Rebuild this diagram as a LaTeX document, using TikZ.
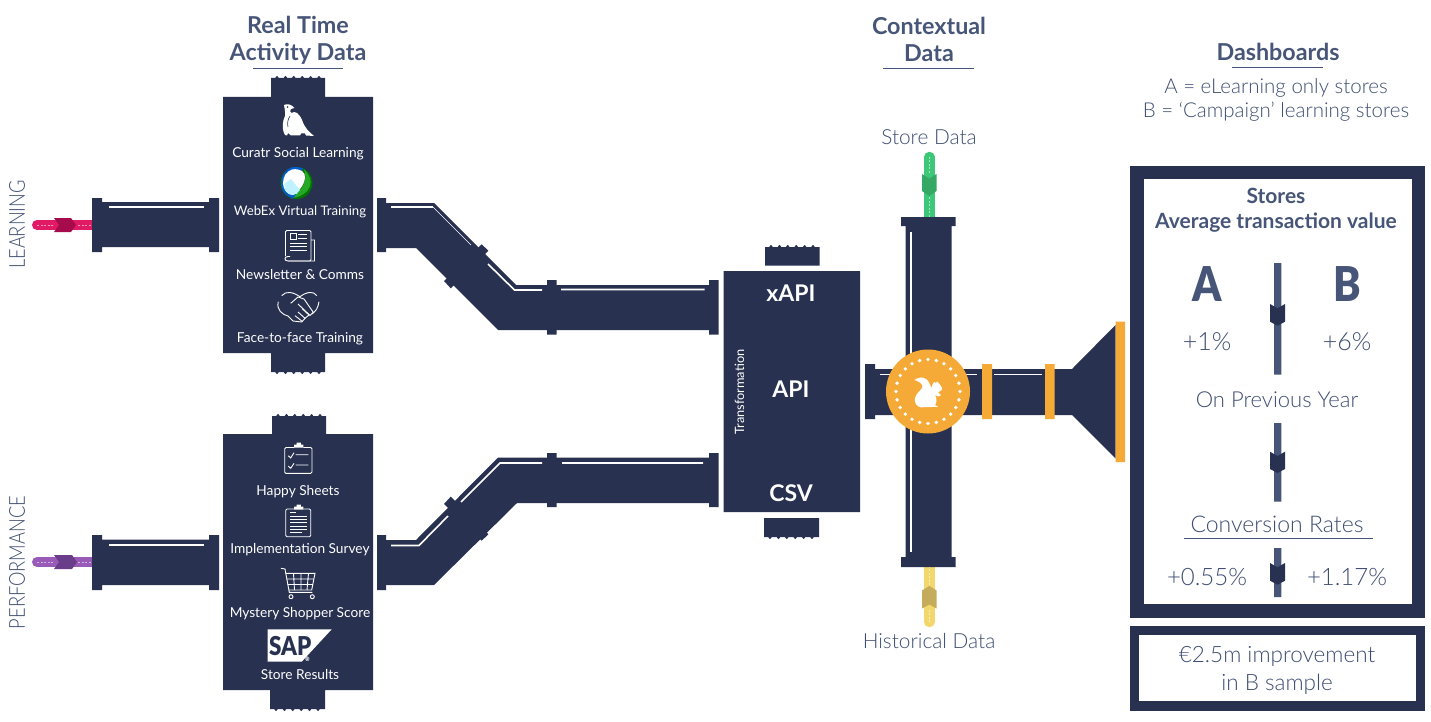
\documentclass[tikz,border=0pt]{standalone}
\usepackage{fontspec}
\usetikzlibrary{calc}
\setmainfont{Lato}
\newfontfamily\lightfont{Lato Light}
\newfontfamily\narrowfont[FakeStretch=.83]{Lato Light}
\newfontfamily\blackfont[FakeStretch=.86]{Lato Black}
\definecolor{navy}{HTML}{283150}
\definecolor{slate}{HTML}{475678}
\definecolor{ink}{HTML}{3E4D72}
\definecolor{amber}{HTML}{F5A936}
\definecolor{pink}{HTML}{E01A64}
\definecolor{pinkdark}{HTML}{A60C4C}
\definecolor{plum}{HTML}{9A5AB8}
\definecolor{plumdark}{HTML}{6A3D8A}
\definecolor{leaf}{HTML}{3CC878}
\definecolor{leafdark}{HTML}{34A864}
\definecolor{straw}{HTML}{F2D76C}
\definecolor{strawdark}{HTML}{C4AC5A}
\tikzset{
  heading/.style={inner sep=0pt, text=slate, align=center, font=\bfseries\fontsize{23.3}{27}\selectfont},
  label/.style={inner sep=0pt, text=ink, align=center, font=\lightfont\fontsize{22}{25}\selectfont},
  sidelabel/.style={inner sep=0pt, text=ink, rotate=90, font=\narrowfont\fontsize{22}{25}\selectfont},
  itemlabel/.style={inner sep=0pt, text=white, font=\fontsize{13.7}{17}\selectfont},
  apilabel/.style={inner sep=0pt, text=white, font=\bfseries\fontsize{23}{27}\selectfont},
  letter/.style={inner sep=0pt, text=slate, font=\blackfont\fontsize{48}{48}\selectfont},
  glint/.style={draw=white, line width=1.6pt},
  stubdash/.style={line width=0.5pt, dash pattern=on 2pt off 1.5pt},
  icon/.style={draw=white, line width=0.9pt, rounded corners=1.2pt},
  iconline/.style={draw=white, line width=0.9pt}
}
\newcommand{\serration}[2]{\foreach \d in {6,14.4,22.8,31.2,39.6,48} \fill[navy] ({#1+\d},#2) circle (1.6);}
\begin{document}
\begin{tikzpicture}[x=1pt, y=-1pt]
\useasboundingbox (0,0) rectangle (1431,722);
\draw[pink, line width=10pt, line cap=round] (37,225) -- (92,225);
\draw[pink!45!white, stubdash] (37,225) -- (53,225) (78,225) -- (92,225);
\fill[pinkdark] (54,218) -- (71,218) -- (76,225) -- (71,232) -- (54,232) -- (59,225) -- cycle;
\draw[plum, line width=10pt, line cap=round] (37,562) -- (92,562);
\draw[plum!45!white, stubdash] (37,562) -- (53,562) (78,562) -- (92,562);
\fill[plumdark] (54,555) -- (72,555) -- (77,562) -- (72,569) -- (54,569) -- (59,562) -- cycle;
\draw[leaf, line width=10.5pt, line cap=round] (929.3,157) -- (929.3,217);
\draw[leaf!45!white, stubdash] (929.3,157) -- (929.3,174) (929.3,197) -- (929.3,217);
\fill[leafdark] (922,174) -- (929.3,178.7) -- (936.5,174) -- (936.5,191) -- (929.3,196) -- (922,191) -- cycle;
\draw[straw, line width=10.5pt, line cap=round] (929.3,622) -- (929.3,567);
\draw[straw!45!white, stubdash] (929.3,622) -- (929.3,608) (929.3,585) -- (929.3,567);
\fill[strawdark] (929.3,586) -- (936.5,590.5) -- (936.5,608.5) -- (929.3,604.5) -- (922,608.5) -- (922,590.5) -- cycle;
\node[sidelabel] (learning) at (17,224.5) {LEARNING};
\node[sidelabel] (performance) at (17,562.5) {PERFORMANCE};
\node[heading] (realtime) at (298,40.5) {Real Time\\Activity Data};
\draw[slate, line width=1pt] (253,68.5) -- (343,68.5);
\node[heading] (contextual) at (929,39.5) {Contextual\\Data};
\draw[slate, line width=1pt] (883,68.5) -- (974,68.5);
\node[heading] (dashboards) at (1278,52) {Dashboards};
\draw[slate, line width=1pt] (1232,67.5) -- (1323,67.5);
\node[label, font=\lightfont\fontsize{20.5}{25}\selectfont] (groupa) at (1276,88) {A = eLearning only stores};
\node[label, font=\lightfont\fontsize{20.5}{25}\selectfont] (groupb) at (1276,112) {B = ‘Campaign’ learning stores};
\node[label, font=\lightfont\fontsize{20.8}{25}\selectfont] (storedata) at (929,137) {Store Data};
\node[label, font=\lightfont\fontsize{20.8}{25}\selectfont] (historical) at (929,641) {Historical Data};
\fill[navy] (92,198) rectangle (102,252) (102,202) rectangle (209,247) (209,198) rectangle (219,252);
\draw[glint] (109,207) -- (204,207);
\fill[navy] (92,535) rectangle (102,590) (102,539.5) rectangle (209,585) (209,535) rectangle (219,590);
\draw[glint] (109,545) -- (204,545);
\fill[navy] (223,97) rectangle (373,353) (271,78) rectangle (325,97) (271,353) rectangle (325,372);
\serration{271}{77.5}
\serration{271}{372.5}
\fill[navy] (223,434) rectangle (373,690) (272,416) rectangle (326,434) (270,690) rectangle (325,709);
\serration{272}{415.5}
\serration{270}{709.5}
\fill[white] (284,105) .. controls (287,103.5) and (291,104) .. (294.5,108) -- (291,109) .. controls (289.5,110) and (290,113) .. (291.5,113) .. controls (295,110.5) and (299,113) .. (302,120) .. controls (304,127) and (309,132) .. (314,136) -- (306,135.5) -- (305,133.5) -- (301,133.5) -- (300,135.5) -- (291,135.5) -- (288,133) -- (287,135.5) -- (285,135) .. controls (281,128) and (283,120) .. (285,116) .. controls (285.5,112) and (284.5,108) .. (284,105) -- cycle;
\fill[navy] (287.5,107) circle (0.8);
\draw[navy, line width=0.6pt] (290,116) .. controls (288,119) and (287,123) .. (288,127);
\node[itemlabel] (curatr) at (298,154) {Curatr Social Learning};
\fill[green!45!black] (296.5,183) circle (16);
\fill[green!60!black!85!white] (304,169.5) .. controls (316,180) and (312,195) .. (291,198.5) .. controls (303,190) and (308,180) .. (304,169.5) -- cycle;
\fill[blue!55!cyan!80!black] (290,168) .. controls (282,172) and (279,183) .. (283,191) .. controls (286,196) and (291,198) .. (294,198.5) .. controls (300,180) and (300,175) .. (303,168.5) .. controls (298,166.5) and (293,166.5) .. (290,168) -- cycle;
\fill[white] (292,169.5) .. controls (300,168) and (306,172) .. (305,178) .. controls (304,186) and (298,192) .. (293,195) .. controls (287,195) and (283,189) .. (283,183) .. controls (283,176) and (287,171) .. (292,169.5) -- cycle;
\fill[blue!20!cyan!25!white] (284,187) -- (298,193) -- (293,195) .. controls (289,195) and (285,191) .. (284,187) -- cycle;
\fill[blue!20!cyan!25!white] (284,184) -- (291,179) -- (300,190) -- (296,194) -- (288,192) -- cycle;
\node[itemlabel, font=\fontsize{13.2}{17}\selectfont] (webex) at (300,212) {WebEx Virtual Training};
\draw[icon] (285.5,256) -- (285.5,230.5) -- (311,230.5) -- (311,261) -- (288,261);
\draw[iconline] (311,240) -- (314.5,240) -- (314.5,261) -- (288,261) .. controls (284,261) and (284,256.5) .. (288,256.5) -- (290,256.5);
\draw[iconline] (290,233.5) rectangle (296,239.5) (298,234.5) -- (307,234.5) (298,238) -- (307,238) (290,243) -- (307,243) (290,246.5) -- (307,246.5) (290,250) -- (307,250);
\node[itemlabel] (newsletter) at (300,275) {Newsletter \& Comms};
\draw[iconline] (281.7,295.7) .. controls (286,290.5) and (293,292) .. (300,296.7) .. controls (306,292) and (314,290.5) .. (316.7,295.7);
\draw[iconline] (290.7,303.3) -- (298,297) -- (304,299) -- (313.3,312.3) -- (310,315.5) -- (298,304);
\draw[iconline] (278.3,301.7) .. controls (276,310) and (283,315) .. (288,316) -- (293,321) -- (301.7,322) -- (305,318.3) -- (298,312);
\draw[iconline] (295,315.7) -- (301.7,321) (305,318.3) -- (309,315) -- (302,308.5);
\draw[iconline] (319,301.7) .. controls (318,308) and (316,311) .. (312,314);
\node[itemlabel] (facetoface) at (300,339) {Face-to-face Training};
\draw[icon] (294,447.5) -- (284.7,447.5) -- (284.7,473.3) -- (312,473.3) -- (312,447.5) -- (303.3,447.5);
\fill[white] (294,444.5) rectangle (303.3,447.7) (296.5,442.5) rectangle (300.8,445);
\draw[iconline] (288.3,455.7) -- (290.7,458) -- (294,452.7) (295.7,454.7) -- (308.3,454.7) (288.3,466) -- (290.7,468.3) -- (294,463.3) (295.7,465) -- (308.3,465);
\node[itemlabel] (happy) at (298,492) {Happy Sheets};
\draw[icon] (294,509) -- (285.7,509) -- (285.7,536.7) -- (310.7,536.7) -- (310.7,509) -- (303.3,509);
\fill[white] (294,506.5) rectangle (303.3,509.5) (296.5,504.7) rectangle (300.8,507);
\draw[iconline] (290,512.7) -- (296,512.7) (290,516) -- (306.7,516) (290,519.3) -- (306.7,519.3) (290,522.7) -- (306.7,522.7) (290,526) -- (306.7,526) (290,529.3) -- (306.7,529.3) (290,532.7) -- (302,532.7);
\node[itemlabel] (survey) at (300,550) {Implementation Survey};
\draw[iconline] (281,568.3) -- (285,569) -- (289.3,592.3) -- (312.3,592.3);
\draw[iconline] (285.7,573.3) -- (315,573.3) -- (311.7,590) -- (288.7,590);
\draw[iconline] (293.5,573.3) -- (294.5,590) (301,573.3) -- (301,590) (308.5,573.3) -- (307,590) (286.7,579) -- (313.8,579) (287.7,584.5) -- (312.8,584.5);
\draw[iconline] (291,596.7) circle (2) (312.3,596.7) circle (2);
\node[itemlabel] (mystery) at (300,614) {Mystery Shopper Score};
\fill[white] (267.7,629.3) -- (331.7,629.3) -- (301.7,661.7) -- (267.7,661.7) -- cycle;
\node[inner sep=0pt, anchor=base west, text=navy, font=\blackfont\fontsize{26}{26}\selectfont] (sap) at (269,655.3) {SAP\kern-6pt\raisebox{-6.5pt}{\textcolor{white}{\fontsize{6}{6}\selectfont ®}}};
\node[itemlabel] (storeresults) at (300,675) {Store Results};
\fill[navy] (377,198) rectangle (386,252) (547,280) rectangle (556.5,334.5) (709,280) rectangle (718.5,334.5);
\fill[navy] (386,203) -- (434,203) -- (516,285) -- (709,285) -- (709,330) -- (498,330) -- (416,248) -- (386,248) -- cycle;
\fill[navy] (481.7,244.3) -- (488.3,250.7) -- (450.7,288.3) -- (444,281) -- cycle;
\draw[glint] (391,207) -- (433,207);
\draw[white, line width=0.6pt] (433,207) -- (471,245);
\draw[glint] (488,264) -- (514.5,290) -- (542,290) (561,289.5) -- (704.5,289.5);
\fill[navy] (377,535) rectangle (386,590) (547,453) rectangle (556.5,507) (709,453) rectangle (718.5,507);
\fill[navy] (386,540) -- (416,540) -- (498,457.5) -- (709,457.5) -- (709,503) -- (517,503) -- (434,585) -- (386,585) -- cycle;
\fill[navy] (481.7,540.7) -- (488.3,534.3) -- (450.7,496.7) -- (444,504) -- cycle;
\draw[glint] (391,545.5) -- (419,545.5) -- (448,516) (461,502) -- (500,463) -- (542,463) (562,463) -- (703,463);
\fill[navy] (723.5,271) rectangle (860,512) (765,247) rectangle (819.5,265.5) (764,518) rectangle (819,537);
\serration{765}{246.5}
\serration{764}{537.5}
\node[apilabel] (xapi) at (791,293) {xAPI};
\node[apilabel] (api) at (791,389) {API};
\node[apilabel] (csv) at (791,493) {CSV};
\node[inner sep=0pt, text=white, rotate=90, font=\fontsize{12.8}{15}\selectfont] (transformation) at (739.5,392) {Transformation};
\fill[navy] (901,217) rectangle (955.5,226) (905.5,226) rectangle (951.5,557) (901,557) rectangle (955.5,567);
\draw[glint] (910.7,232) -- (910.7,552);
\fill[navy] (865,364) rectangle (875,419) (875,369) rectangle (1072,415);
\fill[navy] (1072,369) -- (1115.5,325) -- (1115.5,458.5) -- (1072,415) -- cycle;
\draw[glint] (880,374.5) -- (977,374.5) (994,374.5) -- (1042,374.5);
\fill[amber] (982,364) rectangle (992,419) (1045,364) rectangle (1054.5,419) (1115.5,321.5) rectangle (1125,462);
\fill[amber] (928,391.5) circle (42);
\foreach \a in {0,15,...,345} \fill[white] ($(928,391.5)+(\a:32)$) circle (1.9);
\fill[white] (914.3,380) .. controls (918,377.5) and (923,376.5) .. (926,379) .. controls (929,381) and (930,385) .. (931.5,388) .. controls (932,385) and (933,383) .. (934,382) -- (936,383) -- (937,381.5) .. controls (939,383) and (942,387) .. (942.3,389.5) -- (938,392.5) -- (941,395) -- (938.5,396.5) -- (935,395) .. controls (937,399) and (937,402) .. (935,405) -- (938,406.8) -- (921,407.3) .. controls (917,407) and (914,403) .. (915,398) .. controls (916,393) and (922,390) .. (922.5,386.5) .. controls (922,383) and (918,381) .. (914.3,380) -- cycle;
\fill[navy] (1130,165.7) rectangle (1425,618.3);
\fill[white] (1143.5,179.5) rectangle (1411.5,604.3);
\fill[navy] (1130,626) rectangle (1425,710.7);
\fill[white] (1139,635.3) rectangle (1416,701.3);
\node[heading, font=\bfseries\fontsize{21}{25}\selectfont] (stores) at (1276,210.5) {Stores\\Average transaction value};
\node[letter] (groupaletter) at (1207,284) {A};
\node[letter] (groupbletter) at (1347,284) {B};
\fill[slate] (1274,263) rectangle (1281.3,374.5) (1274,423) rectangle (1281.3,501.7) (1274,548) rectangle (1281.3,597);
\fill[navy] (1270,304) -- (1277.5,308.3) -- (1285,304) -- (1285,321.7) -- (1277.5,325.7) -- (1270,321.7) -- cycle;
\fill[navy] (1270,451.7) -- (1277.5,456) -- (1285,451.7) -- (1285,469) -- (1277.5,473) -- (1270,469) -- cycle;
\fill[navy] (1270,563) -- (1277.5,567.3) -- (1285,563) -- (1285,580.7) -- (1277.5,584.7) -- (1270,580.7) -- cycle;
\node[label, font=\lightfont\fontsize{25}{25}\selectfont] (gaina) at (1207,342) {+1\%};
\node[label, font=\lightfont\fontsize{25}{25}\selectfont] (gainb) at (1347,342) {+6\%};
\node[label] (previous) at (1277,400) {On Previous Year};
\node[label, font=\lightfont\fontsize{23}{25}\selectfont] (conversion) at (1277,524) {Conversion Rates};
\draw[slate, line width=1pt] (1184,538.5) -- (1373,538.5);
\node[label, font=\lightfont\fontsize{24}{25}\selectfont] (ratea) at (1207,577) {+0.55\%};
\node[label, font=\lightfont\fontsize{24}{25}\selectfont] (rateb) at (1347,577) {+1.17\%};
\node[label, font=\lightfont\fontsize{22.5}{28}\selectfont] (improvement) at (1277,670) {€2.5m improvement\\in B sample};
\end{tikzpicture}
\end{document}
